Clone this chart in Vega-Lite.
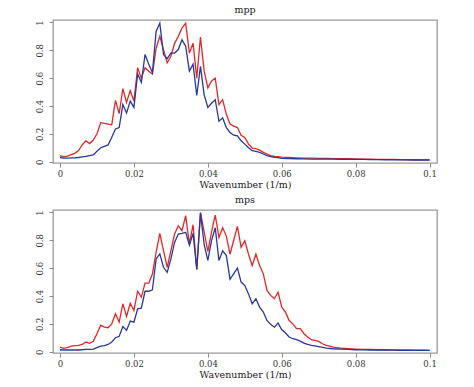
{
  "$schema": "https://vega.github.io/schema/vega-lite/v6.json",
  "padding": {"left": 34, "top": 4, "right": 5, "bottom": 5},
  "background": "white",
  "config": {
    "font": "DejaVu Serif",
    "view": {"stroke": "#9a9a9a", "strokeWidth": 1.3},
    "axis": {"grid": false, "domain": false, "tickColor": "#8a8a8a", "tickSize": 4, "tickWidth": 1,
      "labelFont": "DejaVu Serif", "labelFontSize": 8.5, "labelColor": "#333",
      "titleFont": "DejaVu Serif", "titleFontSize": 9.5, "titleFontWeight": "normal", "titleColor": "#222"},
    "title": {"font": "DejaVu Serif", "fontSize": 9.5, "fontWeight": "normal", "color": "#222", "offset": 5},
    "concat": {"spacing": 4}
  },
  "datasets": {
    "mpp": [
      {"x":0.000,"r":0.043,"b":0.030},{"x":0.001,"r":0.035,"b":0.026},{"x":0.002,"r":0.040,"b":0.025},{"x":0.003,"r":0.050,"b":0.027},
      {"x":0.004,"r":0.060,"b":0.028},{"x":0.005,"r":0.080,"b":0.030},{"x":0.006,"r":0.120,"b":0.034},{"x":0.007,"r":0.150,"b":0.038},
      {"x":0.008,"r":0.130,"b":0.043},{"x":0.009,"r":0.155,"b":0.048},{"x":0.010,"r":0.200,"b":0.075},{"x":0.011,"r":0.280,"b":0.100},
      {"x":0.012,"r":0.275,"b":0.110},{"x":0.013,"r":0.270,"b":0.120},{"x":0.014,"r":0.265,"b":0.175},{"x":0.015,"r":0.440,"b":0.235},
      {"x":0.016,"r":0.345,"b":0.245},{"x":0.017,"r":0.525,"b":0.410},{"x":0.018,"r":0.425,"b":0.350},{"x":0.019,"r":0.510,"b":0.435},
      {"x":0.020,"r":0.435,"b":0.390},{"x":0.021,"r":0.675,"b":0.630},{"x":0.022,"r":0.600,"b":0.570},{"x":0.023,"r":0.675,"b":0.770},
      {"x":0.024,"r":0.650,"b":0.700},{"x":0.025,"r":0.630,"b":0.640},{"x":0.026,"r":0.815,"b":0.935},{"x":0.027,"r":0.900,"b":0.995},
      {"x":0.028,"r":0.805,"b":0.770},{"x":0.029,"r":0.710,"b":0.740},{"x":0.030,"r":0.757,"b":0.780},{"x":0.031,"r":0.850,"b":0.780},
      {"x":0.032,"r":0.900,"b":0.805},{"x":0.033,"r":0.960,"b":0.875},{"x":0.034,"r":0.995,"b":0.830},{"x":0.035,"r":0.780,"b":0.650},
      {"x":0.036,"r":0.850,"b":0.700},{"x":0.037,"r":0.600,"b":0.475},{"x":0.038,"r":0.895,"b":0.685},{"x":0.039,"r":0.650,"b":0.480},
      {"x":0.040,"r":0.530,"b":0.390},{"x":0.041,"r":0.580,"b":0.420},{"x":0.042,"r":0.600,"b":0.445},{"x":0.043,"r":0.410,"b":0.290},
      {"x":0.044,"r":0.445,"b":0.315},{"x":0.045,"r":0.340,"b":0.245},{"x":0.046,"r":0.270,"b":0.210},{"x":0.047,"r":0.255,"b":0.190},
      {"x":0.048,"r":0.245,"b":0.185},{"x":0.049,"r":0.190,"b":0.150},{"x":0.050,"r":0.174,"b":0.126},{"x":0.051,"r":0.126,"b":0.100},
      {"x":0.052,"r":0.098,"b":0.079},{"x":0.053,"r":0.093,"b":0.074},{"x":0.054,"r":0.083,"b":0.067},{"x":0.055,"r":0.067,"b":0.055},
      {"x":0.056,"r":0.055,"b":0.043},{"x":0.057,"r":0.043,"b":0.036},{"x":0.058,"r":0.038,"b":0.031},{"x":0.059,"r":0.036,"b":0.029},
      {"x":0.060,"r":0.033,"b":0.024},{"x":0.062,"r":0.030,"b":0.022},{"x":0.064,"r":0.028,"b":0.021},{"x":0.066,"r":0.026,"b":0.020},
      {"x":0.068,"r":0.025,"b":0.019},{"x":0.070,"r":0.024,"b":0.019},{"x":0.072,"r":0.023,"b":0.018},{"x":0.074,"r":0.022,"b":0.018},
      {"x":0.076,"r":0.021,"b":0.017},{"x":0.078,"r":0.021,"b":0.017},{"x":0.080,"r":0.020,"b":0.016},{"x":0.082,"r":0.019,"b":0.016},
      {"x":0.084,"r":0.018,"b":0.015},{"x":0.086,"r":0.017,"b":0.015},{"x":0.088,"r":0.017,"b":0.014},{"x":0.090,"r":0.016,"b":0.014},
      {"x":0.092,"r":0.015,"b":0.013},{"x":0.094,"r":0.014,"b":0.013},{"x":0.096,"r":0.014,"b":0.012},{"x":0.098,"r":0.013,"b":0.012},
      {"x":0.100,"r":0.013,"b":0.012}
    ],
    "mps": [
      {"x":0.000,"r":0.033,"b":0.014},{"x":0.001,"r":0.024,"b":0.012},{"x":0.002,"r":0.029,"b":0.012},{"x":0.003,"r":0.040,"b":0.012},
      {"x":0.004,"r":0.043,"b":0.012},{"x":0.005,"r":0.045,"b":0.012},{"x":0.006,"r":0.052,"b":0.014},{"x":0.007,"r":0.069,"b":0.016},
      {"x":0.008,"r":0.060,"b":0.017},{"x":0.009,"r":0.074,"b":0.019},{"x":0.010,"r":0.129,"b":0.029},{"x":0.011,"r":0.190,"b":0.040},
      {"x":0.012,"r":0.177,"b":0.043},{"x":0.013,"r":0.172,"b":0.052},{"x":0.014,"r":0.200,"b":0.069},{"x":0.015,"r":0.272,"b":0.100},
      {"x":0.016,"r":0.212,"b":0.110},{"x":0.017,"r":0.344,"b":0.181},{"x":0.018,"r":0.253,"b":0.153},{"x":0.019,"r":0.348,"b":0.220},
      {"x":0.020,"r":0.296,"b":0.212},{"x":0.021,"r":0.434,"b":0.308},{"x":0.022,"r":0.391,"b":0.313},{"x":0.023,"r":0.492,"b":0.434},
      {"x":0.024,"r":0.492,"b":0.434},{"x":0.025,"r":0.558,"b":0.444},{"x":0.026,"r":0.714,"b":0.666},{"x":0.027,"r":0.850,"b":0.702},
      {"x":0.028,"r":0.726,"b":0.606},{"x":0.029,"r":0.606,"b":0.570},{"x":0.030,"r":0.726,"b":0.666},{"x":0.031,"r":0.845,"b":0.785},
      {"x":0.032,"r":0.905,"b":0.845},{"x":0.033,"r":0.869,"b":0.850},{"x":0.034,"r":0.976,"b":0.857},{"x":0.035,"r":0.773,"b":0.765},
      {"x":0.036,"r":0.912,"b":0.850},{"x":0.037,"r":0.590,"b":0.590},{"x":0.038,"r":1.000,"b":0.995},{"x":0.039,"r":0.860,"b":0.770},
      {"x":0.040,"r":0.720,"b":0.655},{"x":0.041,"r":0.860,"b":0.800},{"x":0.042,"r":0.980,"b":0.890},{"x":0.043,"r":0.820,"b":0.655},
      {"x":0.044,"r":0.890,"b":0.725},{"x":0.045,"r":0.830,"b":0.690},{"x":0.046,"r":0.700,"b":0.520},{"x":0.047,"r":0.800,"b":0.560},
      {"x":0.048,"r":0.900,"b":0.600},{"x":0.049,"r":0.750,"b":0.500},{"x":0.050,"r":0.797,"b":0.475},{"x":0.051,"r":0.700,"b":0.415},
      {"x":0.052,"r":0.618,"b":0.344},{"x":0.053,"r":0.700,"b":0.380},{"x":0.054,"r":0.618,"b":0.320},{"x":0.055,"r":0.559,"b":0.285},
      {"x":0.056,"r":0.440,"b":0.224},{"x":0.057,"r":0.404,"b":0.196},{"x":0.058,"r":0.380,"b":0.176},{"x":0.059,"r":0.427,"b":0.205},
      {"x":0.060,"r":0.320,"b":0.157},{"x":0.061,"r":0.284,"b":0.134},{"x":0.062,"r":0.224,"b":0.105},{"x":0.063,"r":0.200,"b":0.093},
      {"x":0.064,"r":0.165,"b":0.086},{"x":0.065,"r":0.165,"b":0.076},{"x":0.066,"r":0.129,"b":0.062},{"x":0.067,"r":0.105,"b":0.053},
      {"x":0.068,"r":0.086,"b":0.046},{"x":0.069,"r":0.081,"b":0.041},{"x":0.070,"r":0.074,"b":0.036},{"x":0.071,"r":0.057,"b":0.031},
      {"x":0.072,"r":0.045,"b":0.026},{"x":0.074,"r":0.033,"b":0.021},{"x":0.076,"r":0.026,"b":0.019},{"x":0.078,"r":0.022,"b":0.016},
      {"x":0.080,"r":0.019,"b":0.014},{"x":0.082,"r":0.017,"b":0.013},{"x":0.084,"r":0.016,"b":0.012},{"x":0.086,"r":0.015,"b":0.012},
      {"x":0.088,"r":0.014,"b":0.011},{"x":0.090,"r":0.013,"b":0.011},{"x":0.092,"r":0.012,"b":0.010},{"x":0.094,"r":0.012,"b":0.010},
      {"x":0.096,"r":0.011,"b":0.010},{"x":0.098,"r":0.011,"b":0.009},{"x":0.100,"r":0.010,"b":0.009}
    ]
  },
  "vconcat": [
    {
      "title": "mpp",
      "width": 384, "height": 143,
      "data": {"name": "mpp"},
      "transform": [{"fold": ["r", "b"], "as": ["s", "v"]}],
      "mark": {"type": "line", "strokeWidth": 1.3},
      "encoding": {
        "x": {"field": "x", "type": "quantitative", "scale": {"domain": [-0.0019, 0.102], "nice": false, "zero": false},
          "axis": {"title": "Wavenumber (1/m)", "values": [0, 0.02, 0.04, 0.06, 0.08, 0.1], "format": "~g", "labelPadding": 2, "titlePadding": 2, "labelOverlap": false}},
        "y": {"field": "v", "type": "quantitative", "scale": {"domain": [-0.0095, 1.0175], "nice": false, "zero": false},
          "axis": {"title": null, "values": [0, 0.2, 0.4, 0.6, 0.8, 1], "format": "~g", "labelAngle": 270, "labelAlign": "center", "labelBaseline": "bottom", "labelPadding": 5, "labelOverlap": false, "labelFlush": false}},
        "color": {"field": "s", "type": "nominal", "scale": {"domain": ["r", "b"], "range": ["#e02828", "#27379a"]}, "legend": null}
      }
    },
    {
      "title": "mps",
      "width": 384, "height": 143,
      "data": {"name": "mps"},
      "transform": [{"fold": ["r", "b"], "as": ["s", "v"]}],
      "mark": {"type": "line", "strokeWidth": 1.3},
      "encoding": {
        "x": {"field": "x", "type": "quantitative", "scale": {"domain": [-0.0019, 0.102], "nice": false, "zero": false},
          "axis": {"title": "Wavenumber (1/m)", "values": [0, 0.02, 0.04, 0.06, 0.08, 0.1], "format": "~g", "labelPadding": 2, "titlePadding": 2, "labelOverlap": false}},
        "y": {"field": "v", "type": "quantitative", "scale": {"domain": [-0.0095, 1.0175], "nice": false, "zero": false},
          "axis": {"title": null, "values": [0, 0.2, 0.4, 0.6, 0.8, 1], "format": "~g", "labelAngle": 270, "labelAlign": "center", "labelBaseline": "bottom", "labelPadding": 5, "labelOverlap": false, "labelFlush": false}},
        "color": {"field": "s", "type": "nominal", "scale": {"domain": ["r", "b"], "range": ["#e02828", "#27379a"]}, "legend": null}
      }
    }
  ]
}
